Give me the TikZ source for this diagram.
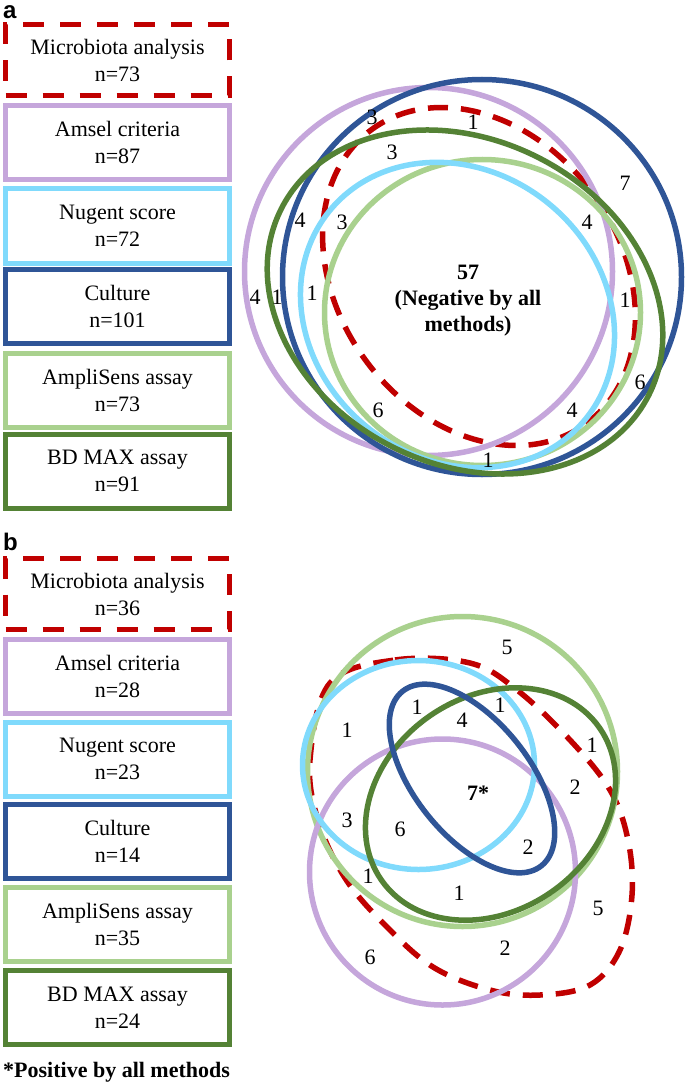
\documentclass[tikz,border=0pt]{standalone}
\usepackage{fontspec}
\setmainfont{Liberation Serif}
\newfontfamily\panelfont{Liberation Sans}
\definecolor{mred}{HTML}{C00000}
\definecolor{mpurple}{HTML}{C5A6DB}
\definecolor{mcyan}{HTML}{80DAFC}
\definecolor{mblue}{HTML}{2F5597}
\definecolor{mlgreen}{HTML}{A9D18E}
\definecolor{mdgreen}{HTML}{548235}
\begin{document}
\begin{tikzpicture}[x=1pt,y=1pt,
  txt/.style={font=\fontsize{22}{27}\selectfont, align=center, inner sep=0pt},
  box/.style={txt, draw, line width=5pt, minimum width=224pt, minimum height=74pt},
  dbox/.style={box, draw=mred, minimum height=71pt, dash pattern=on 21pt off 16pt},
  vn/.style={line width=5.5pt},
  num/.style={font=\fontsize{22}{27}\selectfont, inner sep=0pt},
  bnum/.style={font=\fontsize{22}{26}\selectfont\bfseries, inner sep=0pt, align=center},
  panel/.style={font=\fontsize{24}{24}\selectfont\panelfont\bfseries, inner sep=0pt, anchor=base west}
]
\useasboundingbox (0,0) rectangle (685,-1083);

% ---------- panel a ----------
\node[panel] (pa) at (3,-18.5) {a};
\node[dbox] (amicro) at (117.5,-60) {Microbiota analysis\\n=73};
\node[box, draw=mpurple] (aamsel) at (117.5,-142.5) {Amsel criteria\\n=87};
\node[box, draw=mcyan] (anugent) at (117.5,-226) {Nugent score\\n=72};
\node[box, draw=mblue] (aculture) at (117.5,-306.5) {Culture\\n=101};
\node[box, draw=mlgreen] (aampli) at (117.5,-390) {AmpliSens assay\\n=73};
\node[box, draw=mdgreen] (abd) at (117.5,-471) {BD MAX assay\\n=91};

\draw[vn, mred, dash pattern=on 20pt off 13pt] (479,-276.5) ellipse [x radius=182, y radius=141, rotate=-54];
\draw[vn, mpurple] (428.5,-271.5) circle [radius=184];
\draw[vn, mblue] (482,-277) ellipse [x radius=199.5, y radius=197.5];
\draw[vn, mlgreen] (482.5,-312.5) ellipse [x radius=158, y radius=153];
\draw[vn, mcyan] (457.5,-315) ellipse [x radius=165, y radius=144, rotate=-39];
\draw[vn, mdgreen] (465,-302) ellipse [x radius=206, y radius=162, rotate=-27];

\node[num] (na1) at (372,-117) {3};
\node[num] (na2) at (473,-122) {1};
\node[num] (na3) at (392,-152) {3};
\node[num] (na4) at (625,-183) {7};
\node[num] (na5) at (300,-220) {4};
\node[num] (na6) at (342,-222) {3};
\node[num] (na7) at (587,-222) {4};
\node[num] (na8) at (255,-297) {4};
\node[num] (na9) at (277,-297) {1};
\node[num] (na10) at (312,-293) {1};
\node[num] (na11) at (625,-300) {1};
\node[num] (na12) at (640,-382) {6};
\node[num] (na13) at (378,-410) {6};
\node[num] (na14) at (572,-410) {4};
\node[num] (na15) at (488,-460) {1};
\node[bnum] (na0) at (468,-301) {57\\(Negative by all\\methods)};

% ---------- panel b ----------
\node[panel] (pb) at (3,-550) {b};
\node[dbox] (bmicro) at (117.5,-594) {Microbiota analysis\\n=36};
\node[box, draw=mpurple] (bamsel) at (117.5,-676.5) {Amsel criteria\\n=28};
\node[box, draw=mcyan] (bnugent) at (117.5,-759) {Nugent score\\n=23};
\node[box, draw=mblue] (bculture) at (117.5,-841.5) {Culture\\n=14};
\node[box, draw=mlgreen] (bampli) at (117.5,-924.5) {AmpliSens assay\\n=35};
\node[box, draw=mdgreen] (bbd) at (117.5,-1007.5) {BD MAX assay\\n=24};
\node[font=\fontsize{22}{26}\selectfont\bfseries, inner sep=0pt, anchor=base west] (foot) at (3,-1077) {*Positive by all methods};

\draw[vn, mred, dash pattern=on 20pt off 13pt] plot[smooth cycle, tension=0.6] coordinates {
  (330,-683) (395,-660) (470,-663) (517,-690) (570,-740) (610,-790) (628,-840)
  (632,-895) (620,-950) (590,-985) (540,-995) (490,-990) (433,-967) (385,-925)
  (345,-878) (318,-820) (310,-760)};
\draw[vn, mlgreen] (462.5,-771.5) circle [radius=155];
\draw[vn, mpurple] (442.5,-872) circle [radius=133];
\draw[vn, mcyan] (418.5,-765) ellipse [x radius=116, y radius=104.5];
\draw[vn, mdgreen] (490.5,-804) ellipse [x radius=133, y radius=107, rotate=35];
\draw[vn, mblue] (472,-778.5) ellipse [x radius=111.5, y radius=57.5, rotate=-51.5];

\node[num] (nb1) at (507,-647) {5};
\node[num] (nb2) at (417,-707) {1};
\node[num] (nb3) at (500,-705) {1};
\node[num] (nb4) at (462,-720) {4};
\node[num] (nb5) at (347,-730) {1};
\node[num] (nb6) at (592,-745) {1};
\node[num] (nb7) at (575,-787) {2};
\node[num] (nb8) at (347,-820) {3};
\node[num] (nb9) at (400,-829) {6};
\node[num] (nb10) at (528,-847) {2};
\node[num] (nb11) at (368,-876) {1};
\node[num] (nb12) at (459,-893) {1};
\node[num] (nb13) at (598,-908) {5};
\node[num] (nb14) at (505,-948) {2};
\node[num] (nb15) at (370,-957) {6};
\node[bnum] (nb0) at (478,-793) {7*};
\end{tikzpicture}
\end{document}
